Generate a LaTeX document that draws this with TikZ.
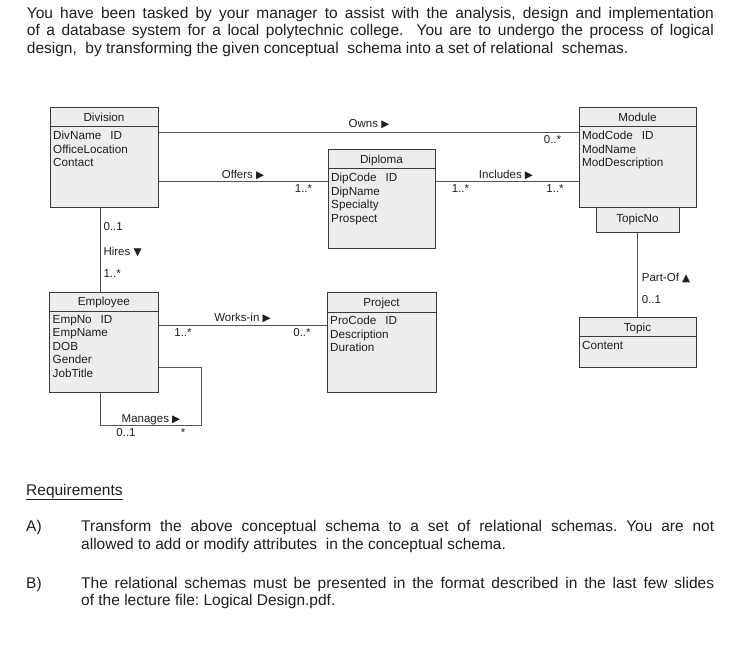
\documentclass[tikz,border=0pt]{standalone}
\usepackage{fontspec}
\setmainfont{Liberation Sans}
\newfontfamily\symfont{DejaVu Sans}
\usetikzlibrary{calc}
\definecolor{boxfill}{HTML}{EDEDED}
\definecolor{boxline}{HTML}{3A3A3A}
\definecolor{conline}{HTML}{555555}
\definecolor{ink}{HTML}{1E1E1E}
\newcommand\idgap{\hspace{9pt}}
\newcommand\rarr{{\symfont\fontsize{10.5}{10.5}\selectfont ▶}}
\newcommand\darr{{\symfont\fontsize{10.5}{10.5}\selectfont ▼}}
\newcommand\uarr{{\symfont\fontsize{10.5}{10.5}\selectfont ▲}}
\frenchspacing
\begin{document}
\begin{tikzpicture}[x=1pt,y=-1pt,
 entity/.style={draw=boxline, fill=boxfill, line width=0.9pt, inner sep=0pt, anchor=north west},
 hdr/.style={draw=boxline, line width=0.9pt},
 conn/.style={draw=conline, line width=0.9pt},
 etitle/.style={font=\fontsize{11.7}{13.5}\selectfont, text=ink, inner sep=0pt, anchor=base},
 attrs/.style={font=\fontsize{11.7}{13.5}\selectfont, text=ink, inner sep=0pt, anchor=north west, align=left},
 lbl/.style={font=\fontsize{11.5}{13.5}\selectfont, text=ink, inner sep=0pt, anchor=base},
 lblw/.style={lbl, anchor=base west},
 para/.style={font=\fontsize{15.5}{17.5}\selectfont, text=ink, inner sep=0pt, anchor=base west},
]
\useasboundingbox (0,0) rectangle (750,652);

% ---------- text above ----------
\node[para] (p1) at (26.7,18.3) {\makebox[687pt][s]{You have been tasked by your manager to assist with the analysis, design and implementation}};
\node[para] (p2) at (26.7,35.8) {\makebox[687pt][s]{of a database system for a local polytechnic college.\ \ You are to undergo the process of logical}};
\node[para] (p3) at (26.7,53.3) {design,\ \ by transforming the given conceptual\ \ schema into a set of relational\ \ schemas.};

% ---------- entities ----------
\node[entity, minimum width=108pt, minimum height=100pt] (division) at (50,107) {};
\draw[hdr] (division.west |- 0,126) -- (division.east |- 0,126);
\node[etitle] (divisiont) at (104,121.5) {Division};
\node[attrs] (divisiona) at (53,131) {DivName\idgap ID\\OfficeLocation\\Contact};

\node[entity, minimum width=107pt, minimum height=99pt] (diploma) at (328,149) {};
\draw[hdr] (diploma.west |- 0,168) -- (diploma.east |- 0,168);
\node[etitle] (diplomat) at (381.5,164) {Diploma};
\node[attrs] (diplomaa) at (331,173) {DipCode\idgap ID\\DipName\\Specialty\\Prospect};

\node[entity, minimum width=117pt, minimum height=100pt] (module) at (579,107) {};
\draw[hdr] (module.west |- 0,126) -- (module.east |- 0,126);
\node[etitle] (modulet) at (637.5,121.5) {Module};
\node[attrs] (modulea) at (582,131) {ModCode\idgap ID\\ModName\\ModDescription};

\node[entity, minimum width=83pt, minimum height=25pt] (topicno) at (596,207) {};
\node[etitle] (topicnot) at (637.5,223) {TopicNo};

\node[entity, minimum width=117pt, minimum height=49.5pt] (topic) at (579,317.3) {};
\draw[hdr] (topic.west |- 0,336) -- (topic.east |- 0,336);
\node[etitle] (topict) at (637.5,331.7) {Topic};
\node[attrs] (topica) at (582,341) {Content};

\node[entity, minimum width=109pt, minimum height=100pt] (employee) at (49.3,291.7) {};
\draw[hdr] (employee.west |- 0,311) -- (employee.east |- 0,311);
\node[etitle] (employeet) at (103.8,306) {Employee};
\node[attrs] (employeea) at (52.5,315) {EmpNo\idgap ID\\EmpName\\DOB\\Gender\\JobTitle};

\node[entity, minimum width=109pt, minimum height=100pt] (project) at (327,292) {};
\draw[hdr] (project.west |- 0,312) -- (project.east |- 0,312);
\node[etitle] (projectt) at (381.5,306.7) {Project};
\node[attrs] (projecta) at (330,316) {ProCode\idgap ID\\Description\\Duration};

% ---------- connectors ----------
\draw[conn] (division.east |- 0,132) -- (module.west |- 0,132);
\draw[conn] (division.east |- 0,181.7) -- (diploma.west |- 0,181.7);
\draw[conn] (diploma.east |- 0,181.7) -- (module.west |- 0,181.7);
\draw[conn] (division.south -| 100.7,0) -- (employee.north -| 100.7,0);
\draw[conn] (topicno.south -| 637.7,0) -- (topic.north -| 637.7,0);
\draw[conn] (employee.east |- 0,325) -- (project.west |- 0,325);
\draw[conn] (employee.east |- 0,367.3) -| (201.7,425.7) -| (employee.south -| 100.7,0);

% ---------- labels ----------
\node[lbl] (owns) at (369,127.7) {Owns \rarr};
\node[lbl] (ownsm) at (552.5,144) {0..*};
\node[lbl] (offers) at (243,178.3) {Offers \rarr};
\node[lbl] (offersm) at (303.5,193) {1..*};
\node[lbl] (incl) at (506,178.3) {Includes \rarr};
\node[lbl] (inclm1) at (460.5,193) {1..*};
\node[lbl] (inclm2) at (555,193) {1..*};
\node[lblw] (hiresm1) at (103.3,230.7) {0..1};
\node[lblw] (hires) at (103.3,256) {Hires \darr};
\node[lblw] (hiresm2) at (103.3,277.3) {1..*};
\node[lbl] (works) at (242.5,321.7) {Works-in \rarr};
\node[lbl] (worksm1) at (183,336.7) {1..*};
\node[lbl] (worksm2) at (302,336.3) {0..*};
\node[lbl] (manages) at (151,422.7) {Manages \rarr};
\node[lbl] (managesm1) at (126,436.5) {0..1};
\node[lbl] (managesm2) at (183,436.5) {*};
\node[lblw] (partof) at (641.7,281.7) {Part-Of \uarr};
\node[lblw] (partofm) at (641.7,303.3) {0..1};

% ---------- requirements ----------
\node[para] (req) at (26,495) {\underline{Requirements}};
\node[para] (ra) at (26,531.7) {A)};
\node[para] (ra1) at (81,531.7) {\makebox[633pt][s]{Transform the above conceptual schema to a set of relational schemas. You are not}};
\node[para] (ra2) at (81,549) {allowed to add or modify attributes\ \ in the conceptual schema.};
\node[para] (rb) at (26,588.3) {B)};
\node[para] (rb1) at (81,588.3) {\makebox[633pt][s]{The relational schemas must be presented in the format described in the last few slides}};
\node[para] (rb2) at (81,605.5) {of the lecture file: Logical Design.pdf.};
\end{tikzpicture}
\end{document}
